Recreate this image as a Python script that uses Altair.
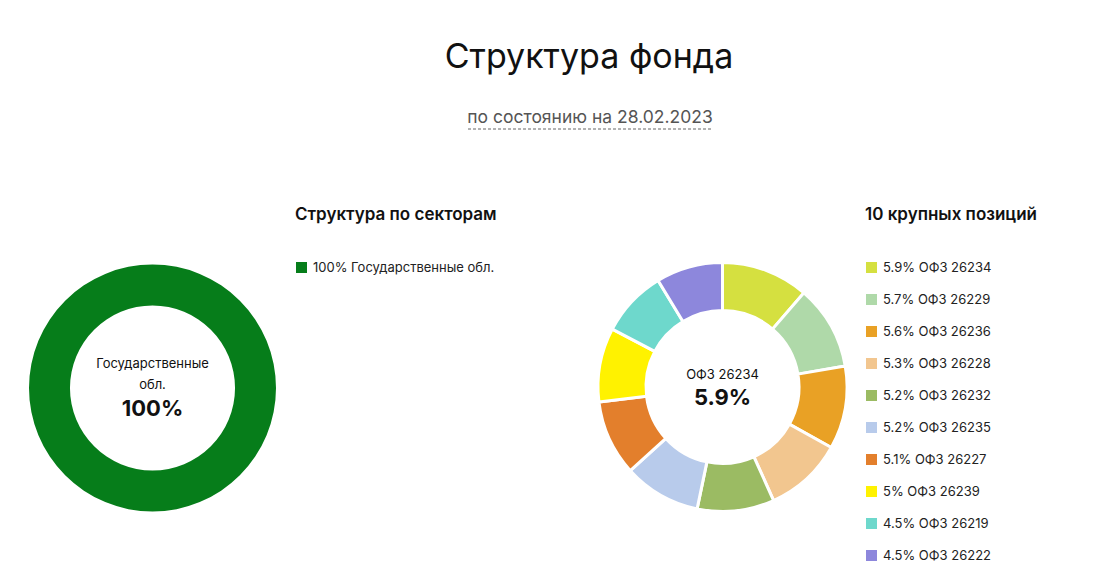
import altair as alt
import pandas as pd

FONT = "Inter"

TITLE = "Структура фонда"
SUBTITLE = "по состоянию на 28.02.2023"

sector_heading = "Структура по секторам"
sector_names = ["Государственные обл."]
sector_values = [100]
sector_colors = ["#067d1a"]
sector_center_lines = ["Государственные", "обл."]

top_heading = "10 крупных позиций"
bond_names = ["ОФЗ 26234", "ОФЗ 26229", "ОФЗ 26236", "ОФЗ 26228", "ОФЗ 26232",
              "ОФЗ 26235", "ОФЗ 26227", "ОФЗ 26239", "ОФЗ 26219", "ОФЗ 26222"]
bond_values = [5.9, 5.7, 5.6, 5.3, 5.2, 5.2, 5.1, 5.0, 4.5, 4.5]
bond_colors = ["#d5e040", "#afd9a9", "#e9a125", "#f2c68f", "#9bbb63",
               "#b8cbeb", "#e37f2c", "#fff200", "#6ed8cc", "#8d87dc"]


def pct(v):
    return f"{v:g}%"


sector_labels = [f"{pct(v)} {n}" for v, n in zip(sector_values, sector_names)]
bond_labels = [f"{pct(v)} {n}" for v, n in zip(bond_values, bond_names)]

sector_df = pd.DataFrame({"label": sector_labels, "value": sector_values,
                          "order": list(range(len(sector_values)))})
bond_df = pd.DataFrame({"label": bond_labels, "value": bond_values,
                        "order": list(range(len(bond_values)))})


def legend(title, x, y):
    return alt.Legend(
        title=title, orient="none", legendX=x, legendY=y,
        symbolType="square", symbolSize=121, symbolStrokeWidth=0,
        labelFont=FONT, labelFontSize=13, labelColor="#222", labelOffset=5,
        labelLimit=400, titleLimit=400,
        titleFont=FONT, titleFontSize=17, titleFontWeight=600, titleColor="#111",
        titlePadding=37, rowPadding=18, padding=0,
    )


sector_arc = alt.Chart(sector_df).mark_arc(innerRadius=82.5, outerRadius=123.5).encode(
    theta=alt.Theta("value:Q", stack=True),
    order=alt.Order("order:Q"),
    color=alt.Color("label:N", sort=None,
                    scale=alt.Scale(domain=sector_labels, range=sector_colors),
                    legend=legend(sector_heading, 287, 199)),
    x=alt.value(144.5), y=alt.value(380),
)

bond_arc = alt.Chart(bond_df).mark_arc(innerRadius=76.5, outerRadius=124.5,
                                       stroke="white", strokeWidth=3).encode(
    theta=alt.Theta("value:Q", stack=True),
    order=alt.Order("order:Q"),
    color=alt.Color("label:N", sort=None,
                    scale=alt.Scale(domain=bond_labels, range=bond_colors),
                    legend=legend(top_heading, 857, 199)),
    x=alt.value(714.5), y=alt.value(379),
)


def text(t, x, y, size, weight=400, color="#111"):
    return alt.Chart(pd.DataFrame({"t": [t]})).mark_text(
        font=FONT, fontSize=size, fontWeight=weight, color=color,
        align="center", baseline="alphabetic",
    ).encode(text="t:N", x=alt.value(x), y=alt.value(y))


underline = alt.Chart(pd.DataFrame({"t": [SUBTITLE]})).mark_rule(
    color="#666", strokeDash=[3, 2], strokeWidth=1
).encode(x=alt.value(460), x2=alt.value(703), y=alt.value(121))

layers = [
    sector_arc,
    bond_arc,
    text(TITLE, 581, 60, 34),
    text(SUBTITLE, 582, 115, 17.5, color="#555"),
    underline,
    text(sector_center_lines[0], 144.5, 360, 13),
    text(sector_center_lines[1], 144.5, 381, 13),
    text(pct(sector_values[0]), 144.5, 408, 22, weight=700),
    text(bond_names[0], 714.5, 371, 13),
    text(pct(bond_values[0]), 714.5, 397, 22, weight=700),
]

chart = alt.layer(*layers).resolve_scale(
    color="independent", theta="independent"
).properties(
    width=1082, height=560, padding=0,
    autosize=alt.AutoSizeParams(type="none"),
    background="white",
).configure_view(stroke=None)

chart.save("out.html", embed_options={"renderer": "svg", "actions": False})
